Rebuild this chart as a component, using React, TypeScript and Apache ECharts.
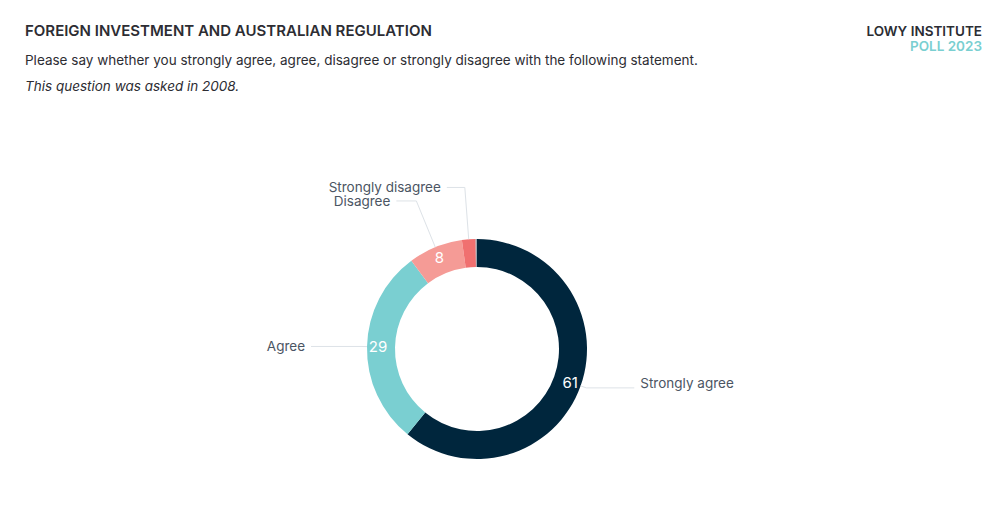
import { useEffect, useRef } from 'react';
import * as echarts from 'echarts';

const CATEGORIES = ['Strongly agree', 'Agree', 'Disagree', 'Strongly disagree', "Don't know"];
const VALUES = [61, 29, 8, 2, 0.2];
const COLORS = ['#00263d', '#7acfd1', '#f59b96', '#f07070', '#9aa4ae'];
// label line lengths per slice: [first segment, horizontal segment]
const LINE_LENGTHS: [number, number][] = [[6, 48], [6, 50], [50, 20], [52, 18], [0, 0]];

const FONT = 'Inter, "Noto Sans", sans-serif';

export default function App() {
  const chartRef = useRef<HTMLDivElement>(null);

  useEffect(() => {
    document.body.style.margin = '0';
    if (!chartRef.current) return;
    const chart = echarts.init(chartRef.current, undefined, { renderer: 'svg' });

    const center = [477, 349];

    const option = {
      animation: false,
      title: [
        {
          text: 'FOREIGN INVESTMENT AND AUSTRALIAN REGULATION',
          left: 25,
          top: 23,
          padding: 0,
          textStyle: { fontFamily: FONT, fontSize: 15, fontWeight: 600, color: '#2d2d33' },
        },
      ],
      graphic: [
        {
          type: 'text',
          left: 25,
          top: 53,
          style: {
            text: 'Please say whether you strongly agree, agree, disagree or strongly disagree with the following statement.',
            font: `400 13.5px ${FONT}`,
            fill: '#2d2d33',
          },
        },
        {
          type: 'text',
          left: 25,
          top: 79,
          style: {
            text: 'This question was asked in 2008.',
            font: `italic 400 13.5px ${FONT}`,
            fill: '#2d2d33',
          },
        },
        {
          type: 'text',
          right: 18,
          top: 24,
          style: {
            text: 'LOWY INSTITUTE',
            font: `600 13.5px ${FONT}`,
            fill: '#2b2d33',
            textAlign: 'right',
          },
        },
        {
          type: 'text',
          right: 18,
          top: 39,
          style: {
            text: 'POLL 2023',
            font: `600 13.5px ${FONT}`,
            fill: '#7acfd1',
            textAlign: 'right',
          },
        },
      ],
      series: [
        {
          type: 'pie',
          center,
          radius: [82, 110],
          startAngle: 90,
          clockwise: true,
          silent: true,
          label: {
            show: true,
            position: 'inside',
            formatter: (p: { value: number; dataIndex: number }) => (p.dataIndex < 3 ? `${p.value}` : ''),
            color: '#ffffff',
            fontFamily: FONT,
            fontSize: 15,
          },
          labelLine: { show: false },
          data: CATEGORIES.map((name, i) => ({
            name,
            value: VALUES[i],
            itemStyle: { color: COLORS[i] },
          })),
        },
        {
          type: 'pie',
          center,
          radius: [82, 110],
          startAngle: 90,
          clockwise: true,
          silent: true,
          z: 3,
          avoidLabelOverlap: false,
          itemStyle: { color: 'transparent' },
          label: {
            show: true,
            position: 'outside',
            formatter: '{b}',
            color: '#4b5563',
            fontFamily: FONT,
            fontSize: 13.5,
            distanceToLabelLine: 6,
          },
          labelLine: { show: true, lineStyle: { color: '#dde2e7', width: 1 } },
          labelLayout: (p: { dataIndex: number }) => (p.dataIndex === 0 ? { dy: -5 } : {}),
          data: CATEGORIES.map((name, i) => ({
            name,
            value: VALUES[i],
            label: { show: i < 4 },
            labelLine: { show: i < 4, length: LINE_LENGTHS[i][0], length2: LINE_LENGTHS[i][1] },
          })),
        },
      ],
    };

    chart.setOption(option as echarts.EChartsOption);
    return () => chart.dispose();
  }, []);

  return <div ref={chartRef} style={{ width: 1000, height: 525 }} />;
}
